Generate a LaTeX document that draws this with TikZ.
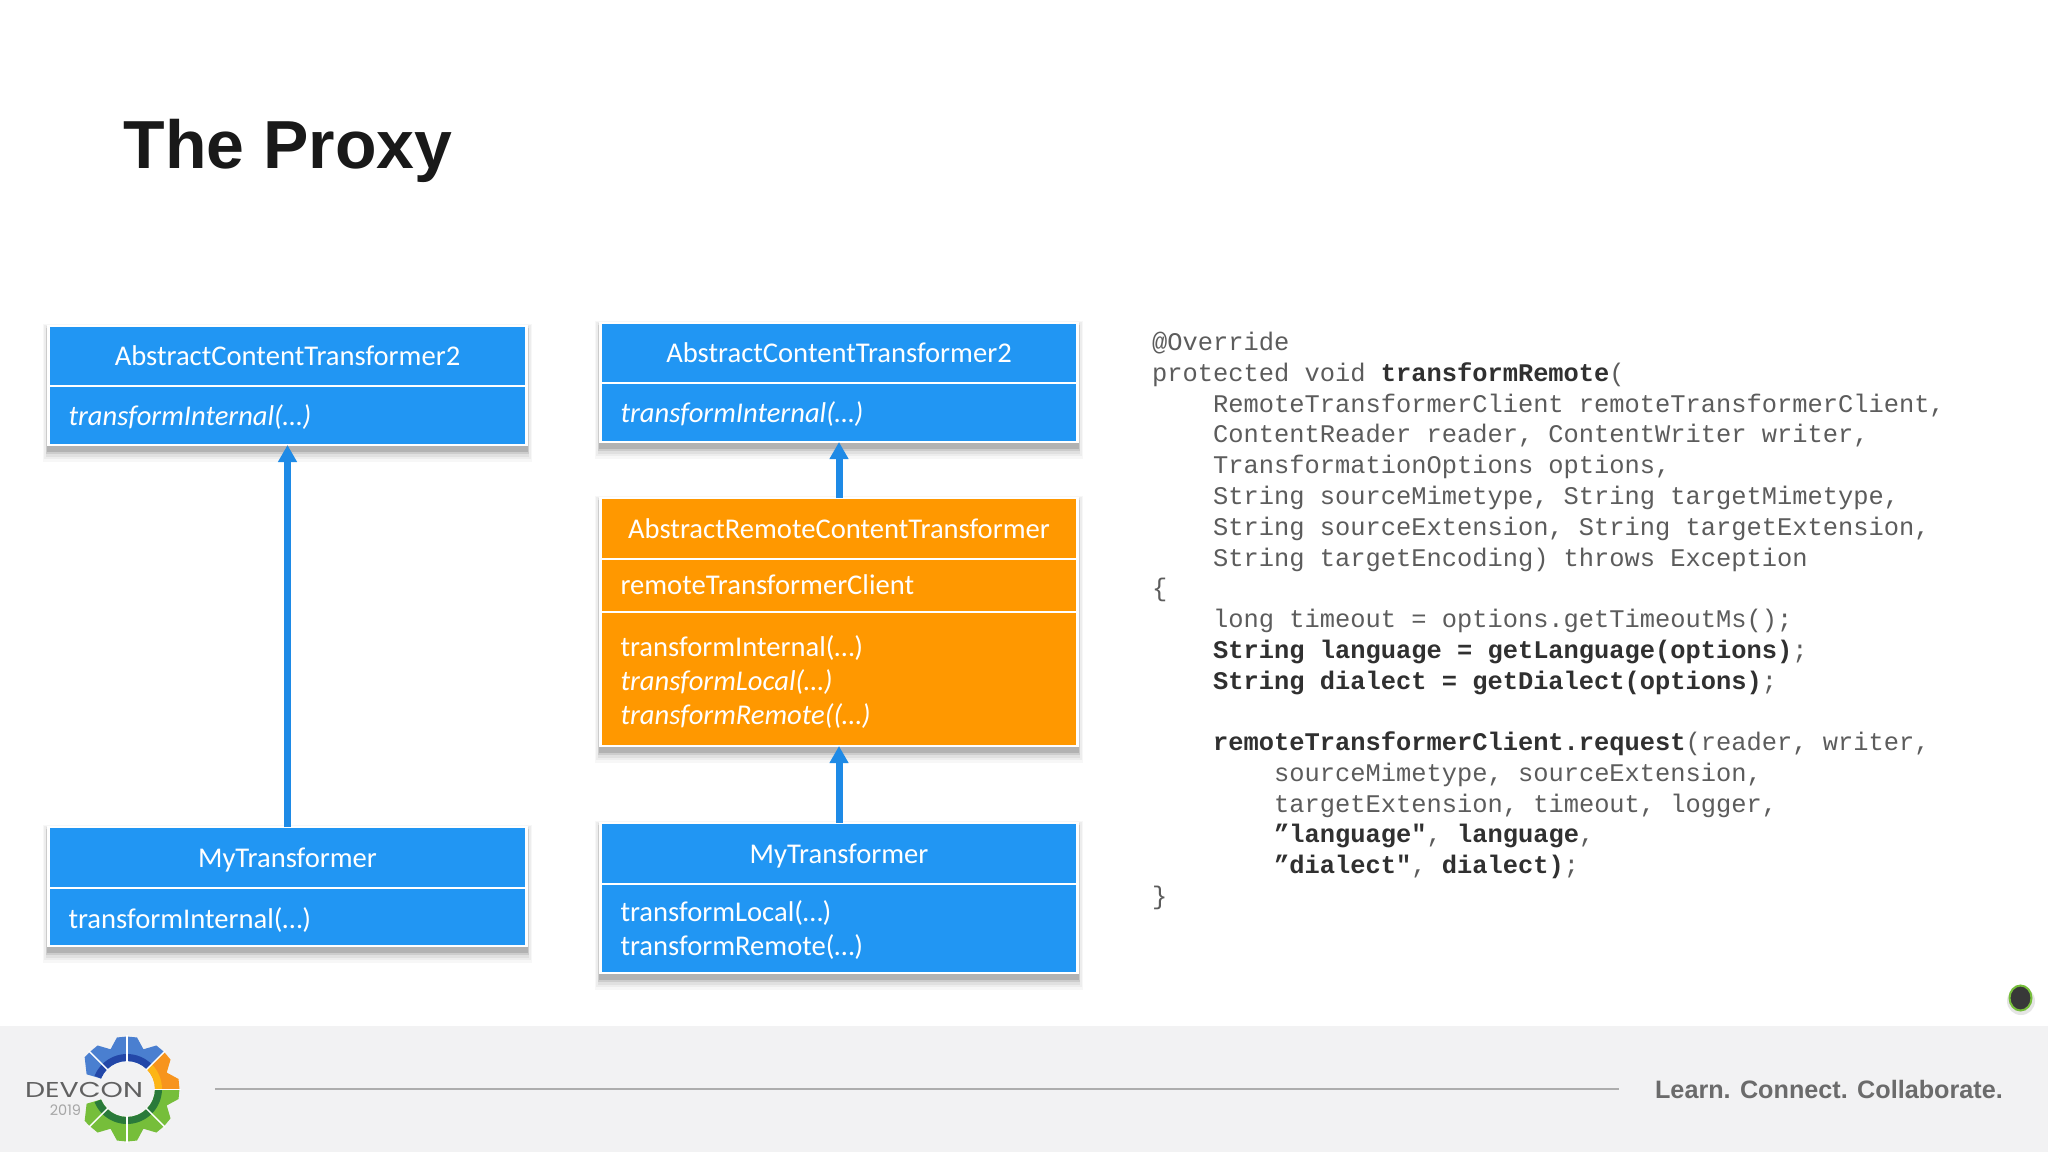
\documentclass[tikz,border=0pt]{standalone}
\usepackage{fontspec}
\setmainfont{Carlito}
\newfontfamily\titlefont{Liberation Sans}
\newfontfamily\codefont{Liberation Mono}
\newfontfamily\logofont{Poppins}
\usetikzlibrary{arrows.meta,positioning}
\definecolor{boxblue}{HTML}{2196F3}
\definecolor{boxorange}{HTML}{FF9800}
\definecolor{arrowblue}{HTML}{1E8AE6}
\definecolor{footgray}{HTML}{F2F2F3}
\definecolor{codegray}{HTML}{5C5C5C}
\definecolor{codebold}{HTML}{303030}
\definecolor{gblue}{HTML}{4A7FD0}
\definecolor{gbluedk}{HTML}{2347A8}
\definecolor{gorange}{HTML}{F7941D}
\definecolor{gyellow}{HTML}{FDB515}
\definecolor{ggreen}{HTML}{76BE3A}
\definecolor{ggreendk}{HTML}{2A7A3A}
\newcommand{\cb}[1]{\textcolor{codebold}{\textbf{#1}}}
% a line of text set slightly lower without changing its box size
\newcommand{\lo}[2][3pt]{\raisebox{-#1}[20pt][6pt]{#2}}
\tikzset{
  cell/.style={rectangle,draw=white,line width=2.5pt,anchor=north west,outer sep=0pt,inner xsep=20pt,inner ysep=0pt,
    text=white,font=\fontsize{28.6}{34}\selectfont,align=left},
  bluecell/.style={cell,fill=boxblue},
  orangecell/.style={cell,fill=boxorange},
  leftw/.style={minimum width=478pt,text width=438pt},
  midw/.style={minimum width=477pt,text width=437pt},
  headcell/.style={align=center},
  inherit/.style={draw=arrowblue,line width=7pt,-{Triangle[length=17pt,width=18pt]}},
}
% soft shadow behind a class box: x1,y1,x2,y2
\newcommand{\boxshade}[4]{%
  \fill[black!3] (#1-6,#2-2) rectangle (#3+6,#4+17);
  \fill[black!7] (#1-4.5,#2-1) rectangle (#3+4.5,#4+14);
  \fill[black!12] (#1-3,#2) rectangle (#3+3,#4+11.5);
  \fill[black!20] (#1-2.5,#2+2) rectangle (#3+2.5,#4+9);
  \fill[black!30] (#1-1.5,#2+4) rectangle (#3+1.5,#4+6.5);
}
% one gear segment between separators
\newcommand{\gearseg}[4]{%
  \fill[#3] (#1:28) -- (#1:52.5) -- (#1-11:52.5) -- ({(#1+#2)/2}:43) -- (#2+11:52.5) -- (#2:52.5) -- (#2:28) arc[start angle=#2,end angle=#1,radius=28] -- cycle;
  \fill[#4] (#1:28) -- (#1:35) arc[start angle=#1,end angle=#2,radius=35] -- (#2:28) arc[start angle=#2,end angle=#1,radius=28] -- cycle;
}
\begin{document}
\begin{tikzpicture}[x=1pt,y=-1pt]
\useasboundingbox (0,0) rectangle (2048,1152);
\fill[white] (0,0) rectangle (2048,1152);
% footer
\fill[footgray] (0,1026) rectangle (2048,1152);
\coordinate (ruleL) at (215,1089);
\coordinate (ruleR) at (1619,1089);
\draw[black!32,line width=1.3pt] (ruleL) -- (ruleR);
\node[anchor=east,inner sep=0pt,text=black!58,font=\titlefont\bfseries\fontsize{25.2}{30}\selectfont] (tagline) at (2003,1089) {Learn. Connect. Collaborate.};
% title
\node[anchor=base west,inner sep=0pt,text=black!90,font=\titlefont\bfseries\fontsize{68}{76}\selectfont] (title) at (123.5,168) {The Proxy};
% shadows
\boxshade{48.5}{326}{526}{445}
\boxshade{48.5}{827}{526}{946}
\boxshade{600.5}{323}{1077}{442}
\boxshade{600.5}{498}{1077}{746}
\boxshade{600.5}{823}{1077}{973}
% left column
\node[bluecell,leftw,headcell,minimum height=60pt] (a1) at (48.5,326) {AbstractContentTransformer2};
\node[bluecell,leftw,minimum height=59pt] (a2) at (48.5,386) {\itshape\lo{transformInternal(…)}};
\node[bluecell,leftw,headcell,minimum height=61pt] (m1) at (48.5,827) {\lo{MyTransformer}};
\node[bluecell,leftw,minimum height=58pt] (m2) at (48.5,888) {\lo[4pt]{transformInternal(…)}};
% middle column
\node[bluecell,midw,headcell,minimum height=60pt] (b1) at (600.5,323) {AbstractContentTransformer2};
\node[bluecell,midw,minimum height=59pt] (b2) at (600.5,383) {\itshape\lo{transformInternal(…)}};
\node[orangecell,midw,headcell,minimum height=61pt] (r1) at (600.5,498) {AbstractRemoteContentTransformer};
\node[orangecell,midw,minimum height=53pt] (r2) at (600.5,559) {\lo[2pt]{remoteTransformerClient}};
\node[orangecell,midw,minimum height=134pt] (r3) at (600.5,612) {\lo[4pt]{transformInternal(…)}\\\lo[4pt]{\itshape transformLocal(…)}\\\lo[4pt]{\itshape transformRemote((…)}};
\node[bluecell,midw,headcell,minimum height=61pt] (c1) at (600.5,823) {\lo{MyTransformer}};
\node[bluecell,midw,minimum height=89pt] (c2) at (600.5,884) {\lo{transformLocal(…)}\\\lo{transformRemote(…)}};
% connectors
\draw[inherit] (m1.north) -- (a2.south);
\draw[inherit] (r1.north) -- (b2.south);
\draw[inherit] (c1.north) -- (r3.south);
% code
\node[anchor=north west,inner sep=0pt,text=codegray,align=left,font=\codefont\fontsize{25.4}{30.77}\selectfont] (code) at (1152,332) {%
@Override\\
protected void \cb{transformRemote}(\\
\hspace*{61pt}RemoteTransformerClient remoteTransformerClient,\\
\hspace*{61pt}ContentReader reader, ContentWriter writer,\\
\hspace*{61pt}TransformationOptions options,\\
\hspace*{61pt}String sourceMimetype, String targetMimetype,\\
\hspace*{61pt}String sourceExtension, String targetExtension,\\
\hspace*{61pt}String targetEncoding) throws Exception\\
\{\\
\hspace*{61pt}long timeout = options.getTimeoutMs();\\
\hspace*{61pt}\cb{String language = getLanguage(options)};\\
\hspace*{61pt}\cb{String dialect = getDialect(options)};\\
\strut\\
\hspace*{61pt}\cb{remoteTransformerClient.request}(reader, writer,\\
\hspace*{122pt}sourceMimetype, sourceExtension,\\
\hspace*{122pt}targetExtension, timeout, logger,\\
\hspace*{122pt}\cb{”language"}, \cb{language},\\
\hspace*{122pt}\cb{”dialect"}, \cb{dialect)};\\
\}};
% pointer dot
\fill[black!10] (2021,1001) ellipse[x radius=14,y radius=14];
\draw[fill=black!78,draw=ggreen,line width=2pt] (2020.5,998) ellipse[x radius=11,y radius=12.5];
% logo
\begin{scope}[shift={(127,1089)},y=1pt]
  \gearseg{135}{90}{gblue}{gbluedk}
  \gearseg{90}{45}{gblue}{gbluedk}
  \gearseg{45}{0}{gorange}{gyellow}
  \gearseg{0}{-45}{ggreen}{ggreendk}
  \gearseg{-45}{-90}{ggreen}{ggreendk}
  \gearseg{-90}{-135}{ggreen}{ggreendk}
  \fill[gblue] (135:28) -- (135:52.5) -- (143:53) -- (160:43) -- (158:28) arc[start angle=158,end angle=135,radius=28] -- cycle;
  \fill[gbluedk] (135:28) -- (135:35) arc[start angle=135,end angle=158,radius=35] -- (158:28) arc[start angle=158,end angle=135,radius=28] -- cycle;
  \fill[ggreen] (-135:28) -- (-135:52.5) -- (-143:53) -- (-160:43) -- (-158:28) arc[start angle=-158,end angle=-135,radius=28] -- cycle;
  \fill[ggreendk] (-135:28) -- (-135:35) arc[start angle=-135,end angle=-158,radius=35] -- (-158:28) arc[start angle=-158,end angle=-135,radius=28] -- cycle;
  \foreach \a in {135,90,45,-45,-90,-135} \draw[white,line width=1.4pt] (\a:27) -- (\a:54);
  \draw[white,line width=0.8pt] (0:27) -- (0:54);
\end{scope}
\node[inner sep=0pt,text=black!62,font=\logofont\fontsize{21.5}{24}\selectfont] (devcon) at (84,1090) {\scalebox{1.32}[1]{DEVCON}};
\node[inner sep=0pt,text=black!35,font=\logofont\fontsize{14.5}{16}\selectfont] (year) at (65.5,1110) {2019};
\end{tikzpicture}
\end{document}
